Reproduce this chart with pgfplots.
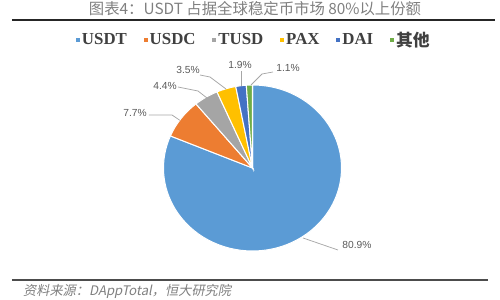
\documentclass[border=0pt]{standalone}
\usepackage{pgfplots}
\pgfplotsset{compat=1.18}
\usepackage{fontspec}
\setmainfont{Liberation Serif}
\setsansfont{Liberation Sans}
\newfontfamily\cjk{Noto Sans CJK SC}
\newfontfamily\cjkit[FakeSlant=0.2]{Noto Sans CJK SC}
\definecolor{cUSDT}{HTML}{5B9BD5}
\definecolor{cUSDC}{HTML}{ED7D31}
\definecolor{cTUSD}{HTML}{A5A5A5}
\definecolor{cPAX}{HTML}{FFC000}
\definecolor{cDAI}{HTML}{4472C4}
\definecolor{cOTH}{HTML}{70AD47}
\definecolor{lblgray}{HTML}{595959}
\definecolor{leadgray}{HTML}{A6A6A6}
\begin{document}
\begin{tikzpicture}
% market shares (%)
\def\vA{80.9}% USDT
\def\vB{7.7}% USDC
\def\vC{4.4}% TUSD
\def\vD{3.5}% PAX
\def\vE{1.9}% DAI
\def\vF{1.1}% other
\pgfmathsetmacro\tot{\vA+\vB+\vC+\vD+\vE+\vF}
\pgfmathsetmacro\aA{90}
\pgfmathsetmacro\aB{\aA-\vA/\tot*360}
\pgfmathsetmacro\aC{\aB-\vB/\tot*360}
\pgfmathsetmacro\aD{\aC-\vC/\tot*360}
\pgfmathsetmacro\aE{\aD-\vD/\tot*360}
\pgfmathsetmacro\aF{\aE-\vE/\tot*360}
\pgfmathsetmacro\aG{\aF-\vF/\tot*360}
\def\cx{252.5}\def\cy{132}\def\rx{89}\def\ry{83}
\def\rxc{2.136cm}\def\ryc{1.992cm}
\newcommand\slice[3]{\fill[#1,draw=white,line width=0.7pt] (axis cs:\cx,\cy) -- (axis cs:{\cx+\rx*cos(#2)},{\cy+\ry*sin(#2)}) arc[start angle=#2,end angle=#3,x radius=\rxc,y radius=\ryc] -- cycle;}
\useasboundingbox (0,0) rectangle (12cm,7.2cm);
\begin{axis}[
  at={(0,0)}, anchor=south west, scale only axis,
  width=12cm, height=7.2cm,
  xmin=0, xmax=500, ymin=0, ymax=300,
  hide axis, clip=false,
  legend columns=6,
  legend style={at={(axis cs:254,260)}, anchor=center, draw=none, fill=none,
    font=\bfseries\fontsize{11.5}{13}\selectfont, text=black!75,
    nodes={inner xsep=1.5pt, inner ysep=1pt},
    /tikz/every even column/.append style={column sep=10pt}},
  legend image code/.code={\fill (0pt,-1.2pt) rectangle (2.6pt,1.4pt);},
]
\addlegendimage{fill=cUSDT,draw=none}\addlegendentry{USDT}
\addlegendimage{fill=cUSDC,draw=none}\addlegendentry{USDC}
\addlegendimage{fill=cTUSD,draw=none}\addlegendentry{TUSD}
\addlegendimage{fill=cPAX,draw=none}\addlegendentry{PAX}
\addlegendimage{fill=cDAI,draw=none}\addlegendentry{DAI}
\addlegendimage{fill=cOTH,draw=none}\addlegendentry{{\cjk 其他}}

\slice{cUSDT}{\aA}{\aB}
\slice{cUSDC}{\aB}{\aC}
\slice{cTUSD}{\aC}{\aD}
\slice{cPAX}{\aD}{\aE}
\slice{cDAI}{\aE}{\aF}
\slice{cOTH}{\aF}{\aG}

% leader lines
\draw[leadgray, line width=0.5pt] (axis cs:303,62) -- (axis cs:338,50);
\draw[leadgray, line width=0.5pt] (axis cs:149,185) -- (axis cs:172,185) -- (axis cs:180,179.6);
\draw[leadgray, line width=0.5pt] (axis cs:178,213) -- (axis cs:198,209) -- (axis cs:207,202);
\draw[leadgray, line width=0.5pt] (axis cs:200,225) -- (axis cs:210,223) -- (axis cs:226,211);
\draw[leadgray, line width=0.5pt] (axis cs:241,229) -- (axis cs:241,214);
\draw[leadgray, line width=0.5pt] (axis cs:273,228) -- (axis cs:262,226) -- (axis cs:251,215);

% data labels
\begin{scope}[every node/.style={font=\sffamily\fontsize{7}{8}\selectfont, text=lblgray, inner sep=1pt}]
\node at (axis cs:357,55) {80.9\%};
\node at (axis cs:135,187) {7.7\%};
\node at (axis cs:165,214) {4.4\%};
\node at (axis cs:188,230) {3.5\%};
\node at (axis cs:240,235) {1.9\%};
\node at (axis cs:288,232) {1.1\%};
\end{scope}

% title, rules, source
\node[font=\cjk\fontsize{10.5}{11}\selectfont, text=black!50] at (axis cs:255,291) {图表4：USDT 占据全球稳定币市场 80\%以上份额};
\draw[line width=1.6pt, black!85] (axis cs:12,280) -- (axis cs:495,280);
\draw[line width=1pt, black!70] (axis cs:12,20) -- (axis cs:488,20);
\node[anchor=west, font=\cjkit\fontsize{9}{10}\selectfont, text=black!50] at (axis cs:18,9) {资料来源：DAppTotal，恒大研究院};
\end{axis}
\end{tikzpicture}
\end{document}
